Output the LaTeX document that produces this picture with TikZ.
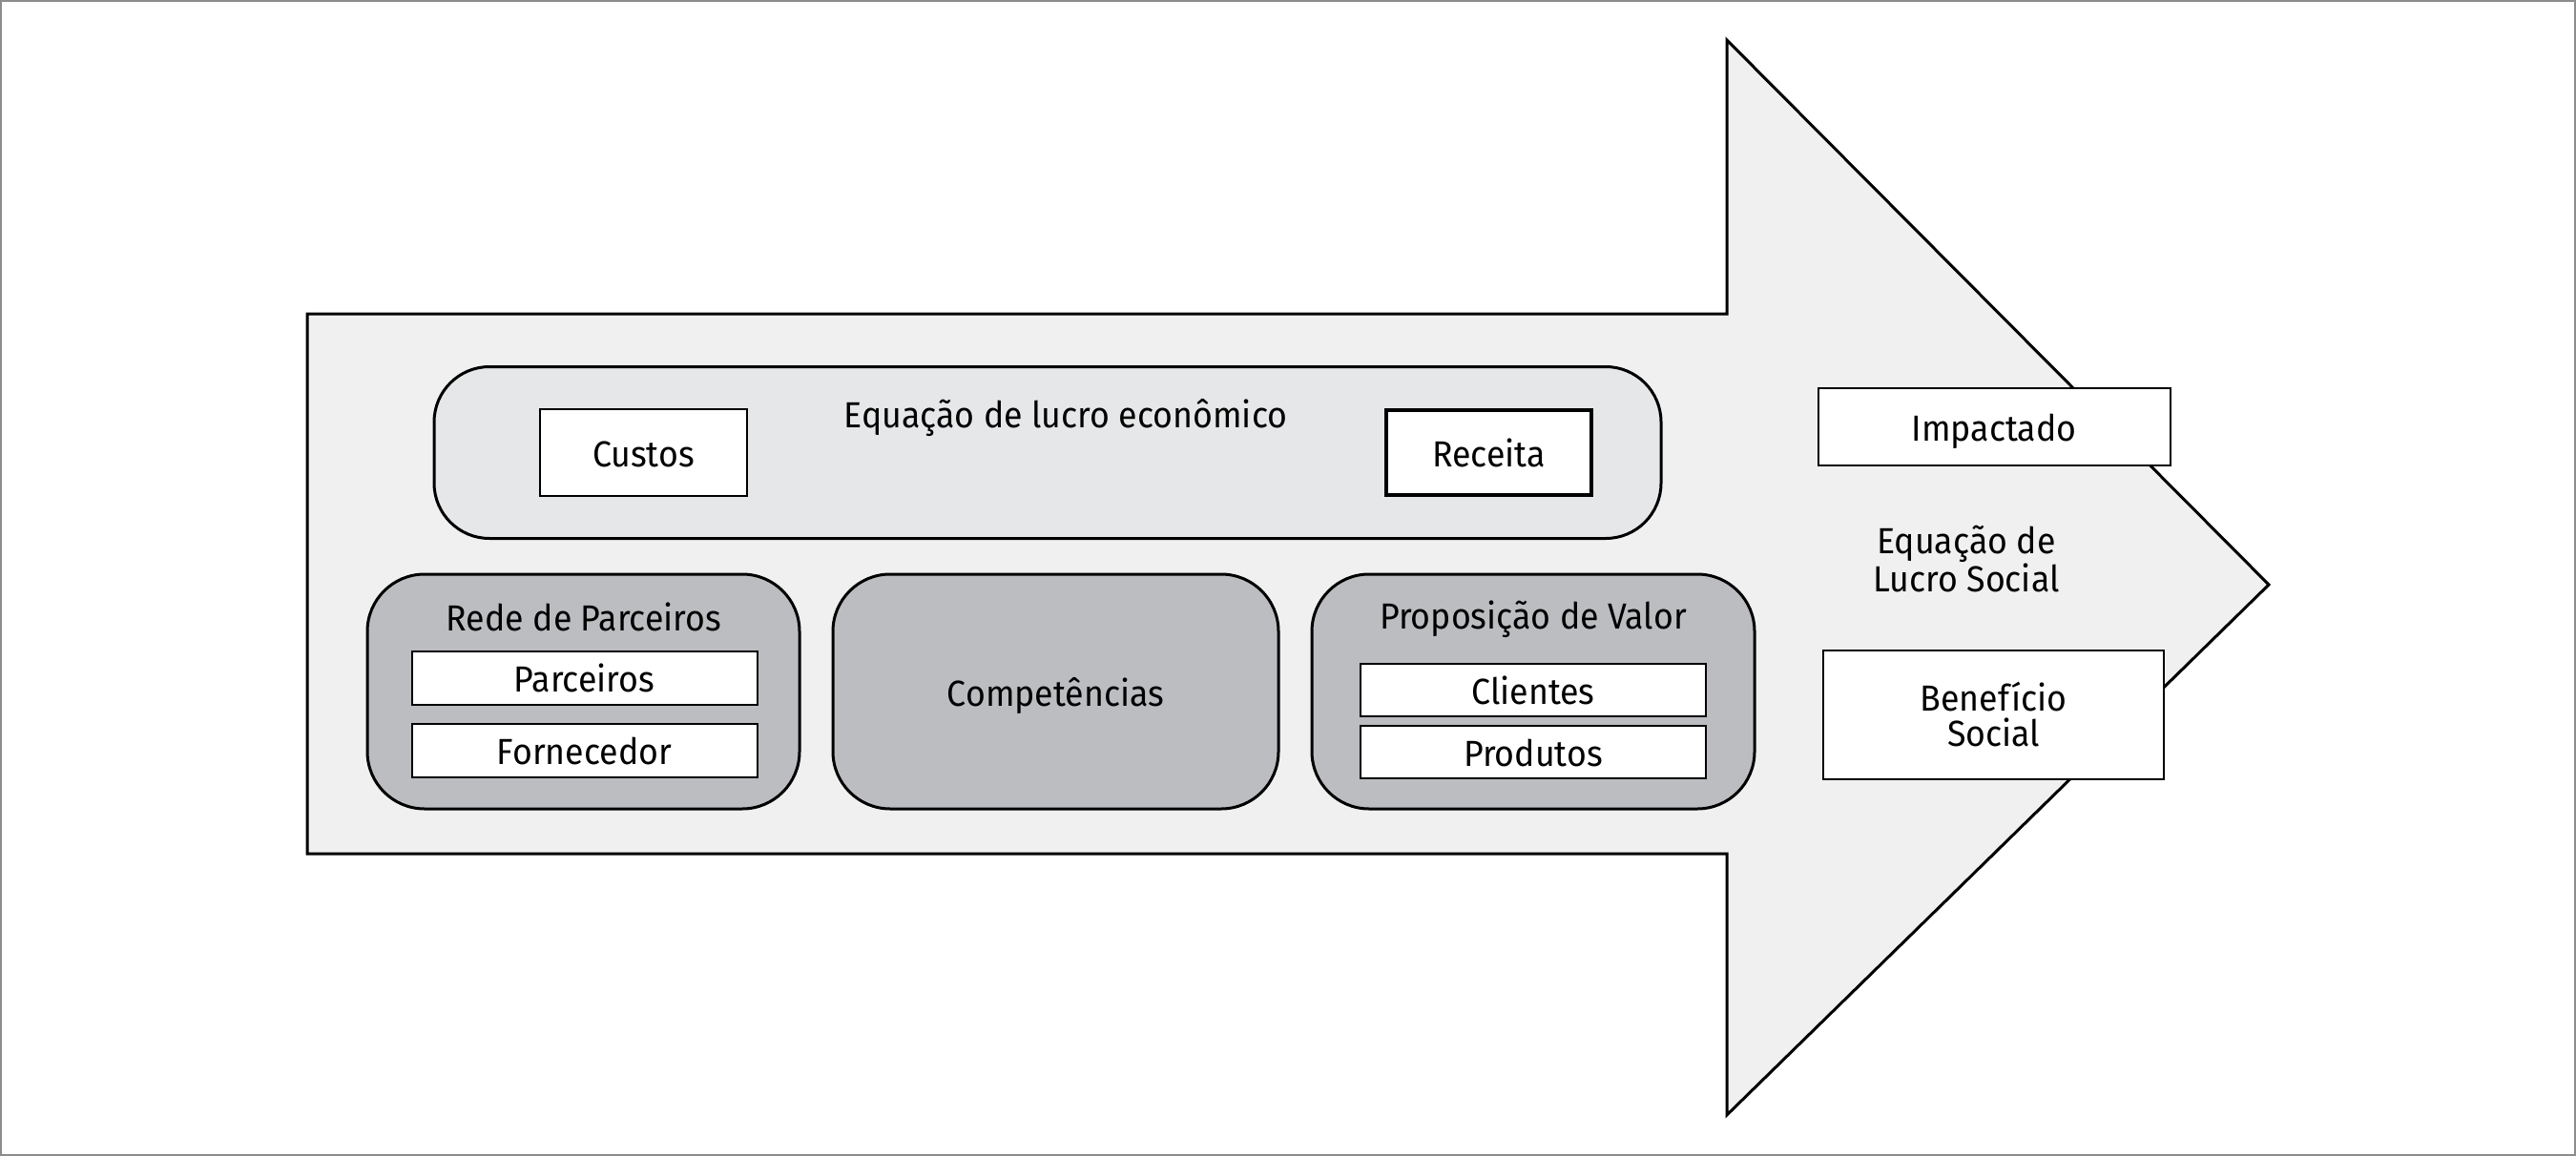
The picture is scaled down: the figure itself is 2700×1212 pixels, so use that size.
\documentclass[tikz,border=0pt]{standalone}
\usepackage{fontspec}
\setmainfont[FakeStretch=0.94]{Fira Sans}
\definecolor{arrowfill}{HTML}{F0F0F0}
\definecolor{ecofill}{HTML}{E6E7E8}
\definecolor{grayfill}{HTML}{BCBDC0}
\definecolor{framegray}{HTML}{8C8C8C}
\begin{document}
\begin{tikzpicture}[x=1pt,y=-1pt,
  every node/.style={font=\fontsize{38}{37}\selectfont, text=black, inner sep=0pt},
  capc/.style={text height=30pt, text depth=0pt},
  ecobox/.style={draw=black, line width=3pt, fill=ecofill, rounded corners=58pt},
  graybox/.style={draw=black, line width=3pt, fill=grayfill, rounded corners=60pt, capc},
  whitebox/.style={draw=black, line width=2pt, fill=white, capc},
  txt/.style={align=center}]
\useasboundingbox (0,0) rectangle (2700,1212);
\draw[framegray, line width=2pt] (1,1) rectangle (2699,1211);
% big arrow
\draw[fill=arrowfill, line width=3pt, line join=miter]
  (322,329) -- (1810,329) -- (1810,42) -- (2378,613) -- (1810,1169) -- (1810,895) -- (322,895) -- cycle;
% economic profit equation
\node[ecobox, minimum width=1286pt, minimum height=180pt] (eco) at (1098,474.5) {};
\node[anchor=base] (ecot) at (1117,448) {Equação de lucro econômico};
\node[whitebox, minimum width=217pt, minimum height=91pt] (custos) at (674.5,474.5) {Custos};
\node[whitebox, line width=4pt, minimum width=215pt, minimum height=89pt] (receita) at (1560.5,474.5) {Receita};
% partner network
\node[graybox, minimum width=453pt, minimum height=246pt] (rede) at (611.5,725) {};
\node[capc] (redet) at (612,646) {Rede de Parceiros};
\node[whitebox, minimum width=362pt, minimum height=56pt] (parc) at (612.5,710.5) {Parceiros};
\node[whitebox, minimum width=362pt, minimum height=56pt] (forn) at (612.5,786.5) {Fornecedor};
% competences
\node[graybox, minimum width=467pt, minimum height=246pt] (comp) at (1106.5,725) {Competências};
% value proposition
\node[graybox, minimum width=464pt, minimum height=246pt] (prop) at (1607,725) {};
\node[capc] (propt) at (1607,644) {Proposição de Valor};
\node[whitebox, minimum width=362pt, minimum height=55pt] (cli) at (1607,723) {Clientes};
\node[whitebox, minimum width=362pt, minimum height=55pt] (prod) at (1607,788.5) {Produtos};
% social profit equation
\node[whitebox, minimum width=369pt, minimum height=81pt] (imp) at (2090,447) {Impactado};
\node[txt] (soc) at (2061,586) {Equação de\\Lucro Social};
\node[draw=black, line width=2pt, fill=white, txt, minimum width=357pt, minimum height=135pt] (ben) at (2089.5,749) {Benefício\\Social};
\end{tikzpicture}
\end{document}
